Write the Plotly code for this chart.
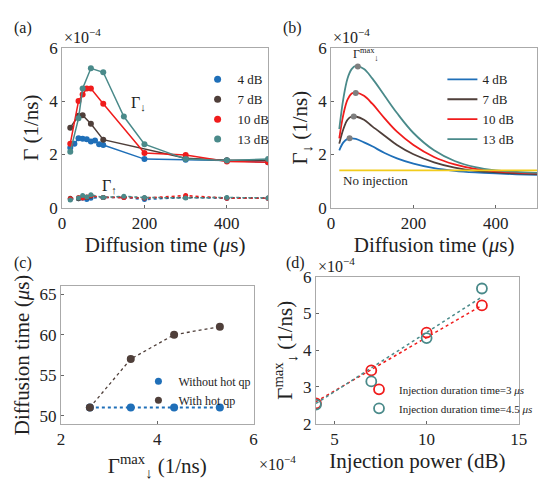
import plotly.graph_objects as go

SERIF = "Liberation Serif"
BLUE, BROWN, RED, TEAL = "#1f6fb8", "#4f3f3a", "#f01c1c", "#4a8a8a"
LABELS = ["4 dB", "7 dB", "10 dB", "13 dB"]
COLORS = [BLUE, BROWN, RED, TEAL]

# (a) measured rates, units of 1e-4 1/ns
a_x = [
    [20, 30, 40, 50, 60, 70, 80, 90, 100, 200, 300, 400, 500],
    [20, 40, 50, 70, 100, 300, 400, 500],
    [20, 40, 50, 60, 70, 100, 200, 300, 400, 500],
    [20, 40, 50, 70, 100, 150, 200, 300, 400, 500],
]
a_down = [
    [2.25, 2.4, 2.6, 2.58, 2.57, 2.48, 2.52, 2.38, 2.35, 1.82, 1.8, 1.77, 1.7],
    [3.0, 3.45, 3.47, 3.15, 2.55, 1.85, 1.78, 1.78],
    [2.4, 4.0, 4.25, 4.47, 4.47, 3.9, 2.05, 1.97, 1.73, 1.7],
    [2.1, 3.35, 4.47, 5.23, 5.08, 3.42, 2.38, 1.82, 1.77, 1.82],
]
up_x = [20, 40, 50, 60, 70, 100, 150, 200, 300, 400, 500]
a_up = [
    [0.3, 0.33, 0.35, 0.3, 0.35, 0.38, 0.38, 0.3, 0.38, 0.35, 0.35],
    [0.35, 0.33, 0.4, 0.38, 0.42, 0.38, 0.4, 0.36, 0.38, 0.36, 0.36],
    [0.33, 0.38, 0.36, 0.4, 0.45, 0.38, 0.38, 0.36, 0.45, 0.35, 0.35],
    [0.28, 0.36, 0.45, 0.4, 0.48, 0.38, 0.42, 0.38, 0.36, 0.38, 0.36],
]

# (b) model curves
b_x = [20, 30, 40, 50, 60, 80, 100, 130, 160, 200, 250, 300, 350, 400, 450, 500]
b_y = [
    [2.15, 2.45, 2.58, 2.6, 2.58, 2.45, 2.3, 2.05, 1.85, 1.65, 1.48, 1.38, 1.32, 1.28, 1.25, 1.23],
    [2.4, 2.95, 3.3, 3.42, 3.42, 3.3, 3.05, 2.7, 2.35, 2.0, 1.7, 1.5, 1.38, 1.32, 1.28, 1.26],
    [2.6, 3.5, 4.05, 4.28, 4.32, 4.2, 3.9, 3.35, 2.85, 2.35, 1.9, 1.62, 1.45, 1.36, 1.31, 1.28],
    [2.95, 4.1, 4.85, 5.2, 5.32, 5.2, 4.85, 4.2, 3.55, 2.8, 2.15, 1.75, 1.52, 1.4, 1.34, 1.3],
]
peak_x = [45, 55, 60, 65]
peak_y = [2.6, 3.42, 4.3, 5.3]
no_inj = 1.4

# (c)
c_x = [2.6, 3.45, 4.35, 5.3]
c_without = [51, 51, 51, 51]
c_with = [51, 57, 60, 61]

# (d)
d_x = [4, 7, 10, 13]
d_3us = [2.55, 3.45, 4.48, 5.22]
d_45us = [2.52, 3.15, 4.33, 5.68]
fit_x = [4, 13]
fit_3us = [2.6, 5.22]
fit_45us = [2.55, 5.45]

fig = go.Figure()

for i in range(4):
    fig.add_scatter(x=a_x[i], y=a_down[i], mode="lines+markers", showlegend=False,
                    line=dict(color=COLORS[i], width=1.5), marker=dict(size=6, color=COLORS[i]),
                    xaxis="x", yaxis="y")
    # marker-only legend entry
    fig.add_scatter(x=[None], y=[None], mode="markers", name=LABELS[i],
                    marker=dict(size=7, color=COLORS[i]), xaxis="x", yaxis="y", legend="legend")
for i in range(4):
    fig.add_scatter(x=up_x, y=a_up[i], mode="lines+markers", showlegend=False,
                    line=dict(color=COLORS[i], width=1.5, dash="dot"), marker=dict(size=5, color=COLORS[i]),
                    xaxis="x", yaxis="y")

for i in range(4):
    fig.add_scatter(x=b_x, y=b_y[i], mode="lines", name=LABELS[i], line=dict(color=COLORS[i], width=1.8, shape="spline"),
                    xaxis="x2", yaxis="y2", legend="legend2")
fig.add_scatter(x=[20, 500], y=[no_inj, no_inj], mode="lines", showlegend=False,
                line=dict(color="#f2cc1c", width=1.8), xaxis="x2", yaxis="y2")
fig.add_scatter(x=peak_x, y=peak_y, mode="markers", showlegend=False,
                marker=dict(size=6, color="#7f7f7f"), xaxis="x2", yaxis="y2")

for name, ys, col, w in [("Without hot qp", c_without, BLUE, 1.8), ("With hot qp", c_with, BROWN, 1.3)]:
    fig.add_scatter(x=c_x, y=ys, mode="lines+markers", showlegend=False,
                    line=dict(color=col, width=w, dash="dot"), marker=dict(size=8, color=col),
                    xaxis="x3", yaxis="y3")
    fig.add_scatter(x=[None], y=[None], mode="markers", name=name, marker=dict(size=7, color=col),
                    xaxis="x3", yaxis="y3", legend="legend3")

fig.add_scatter(x=fit_x, y=fit_3us, mode="lines", showlegend=False,
                line=dict(color=RED, width=1.5, dash="dot"), xaxis="x4", yaxis="y4")
fig.add_scatter(x=fit_x, y=fit_45us, mode="lines", showlegend=False,
                line=dict(color=TEAL, width=1.5, dash="dot"), xaxis="x4", yaxis="y4")
fig.add_scatter(x=d_x, y=d_3us, mode="markers", name="Injection duration time=3 <i>μs</i>",
                marker=dict(size=10, color="rgba(0,0,0,0)", line=dict(color=RED, width=1.8)),
                xaxis="x4", yaxis="y4", legend="legend4")
fig.add_scatter(x=d_x, y=d_45us, mode="markers", name="Injection duration time=4.5 <i>μs</i>",
                marker=dict(size=10, color="rgba(0,0,0,0)", line=dict(color=TEAL, width=1.8)),
                xaxis="x4", yaxis="y4", legend="legend4")

ax = dict(showline=True, mirror=True, linecolor="#aaa", linewidth=1, ticks="inside", ticklen=3,
          tickcolor="#666", showgrid=False, zeroline=False,
          tickfont=dict(family=SERIF, size=17, color="#222"))
tf = dict(family=SERIF, size=21, color="#222")
leg = dict(bgcolor="rgba(0,0,0,0)", font=dict(family=SERIF, size=13, color="#222"),
           itemwidth=30, tracegroupgap=0, xanchor="left", yanchor="top")

fig.update_layout(
    width=550, height=493, paper_bgcolor="white", plot_bgcolor="white",
    margin=dict(l=0, r=0, t=0, b=0),
    xaxis=dict(ax, domain=[0.093, 0.476], range=[0, 500], tickvals=[0, 200, 400],
               title=dict(text="Diffusion time (<i>μ</i>s)", font=tf, standoff=0), anchor="y"),
    yaxis=dict(ax, domain=[0.598, 0.935], range=[0, 6], tickvals=[0, 2, 4, 6],
               title=dict(text="Γ (1/ns)", font=tf, standoff=4), anchor="x"),
    xaxis2=dict(ax, domain=[0.593, 0.976], range=[0, 500], tickvals=[0, 200, 400],
                title=dict(text="Diffusion time (<i>μ</i>s)", font=tf, standoff=0), anchor="y2"),
    yaxis2=dict(ax, domain=[0.598, 0.935], range=[0, 6], tickvals=[0, 2, 4, 6],
                title=dict(text="Γ<sub>↓</sub> (1/ns)", font=tf, standoff=4), anchor="x2"),
    xaxis3=dict(ax, domain=[0.091, 0.449], range=[2, 6], tickvals=[2, 4, 6],
                title=dict(text="Γ<sup>max</sup><sub>↓</sub> (1/ns)", font=tf, standoff=10), anchor="y3"),
    yaxis3=dict(ax, domain=[0.142, 0.432], range=[49, 66], tickvals=[50, 55, 60, 65],
                title=dict(text="Diffusion time (<i>μ</i>s)", font=tf, standoff=4), anchor="x3"),
    xaxis4=dict(ax, domain=[0.565, 0.942], range=[4, 15], tickvals=[5, 10, 15],
                title=dict(text="Injection power (dB)", font=tf, standoff=0), anchor="y4"),
    yaxis4=dict(ax, domain=[0.142, 0.452], range=[2, 6], tickvals=[2, 3, 4, 5, 6],
                title=dict(text="Γ<sup>max</sup><sub>↓</sub> (1/ns)", font=tf, standoff=4), anchor="x4"),
    legend=dict(leg, x=0.345, y=0.9),
    legend2=dict(leg, x=0.80, y=0.9),
    legend3=dict(leg, x=0.235, y=0.262, font=dict(family=SERIF, size=12, color="#222")),
    legend4=dict(leg, x=0.645, y=0.245, font=dict(family=SERIF, size=11, color="#222"), itemwidth=30),
)

ann = dict(showarrow=False, font=dict(family=SERIF, size=16, color="#222"))
for x, y, t in [(0.0, 1.0, "(a)"), (0.5, 1.0, "(b)"), (0.0, 0.505, "(c)"), (0.505, 0.505, "(d)")]:
    fig.add_annotation(ann, x=x, y=y, xref="paper", yref="paper", text=t, xanchor="left", yanchor="top")
for x, y in [(0.093, 0.935), (0.593, 0.935), (0.565, 0.452)]:
    fig.add_annotation(ann, x=x, y=y, xref="paper", yref="paper", text="×10<sup>−4</sup>",
                       xanchor="left", yanchor="bottom")
fig.add_annotation(ann, x=0.455, y=0.06, xref="paper", yref="paper", text="×10<sup>−4</sup>",
                   xanchor="left", yanchor="middle")
fig.add_annotation(ann, x=185, y=3.9, xref="x", yref="y", text="Γ<sub>↓</sub>")
fig.add_annotation(ann, x=115, y=0.8, xref="x", yref="y", text="Γ<sub>↑</sub>")
fig.add_annotation(ann, x=85, y=5.75, xref="x2", yref="y2", text="Γ<sup>max</sup><sub>↓</sub>",
                   font=dict(family=SERIF, size=12, color="#222"))
fig.add_annotation(ann, x=25, y=1.0, xref="x2", yref="y2", text="No injection", xanchor="left",
                   font=dict(family=SERIF, size=13, color="#222"))

fig.write_html("out.html")
